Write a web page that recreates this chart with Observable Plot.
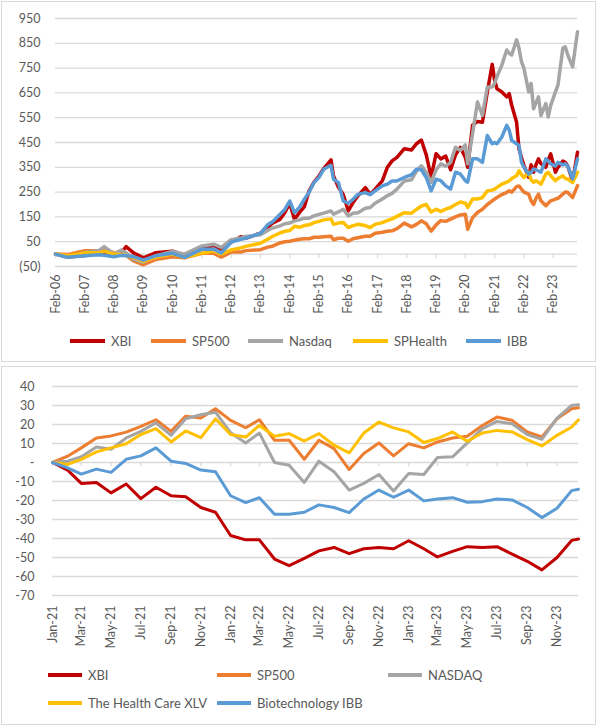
<!DOCTYPE html>
<html><head><meta charset="utf-8">
<script src="https://cdn.jsdelivr.net/npm/d3@7"></script>
<script src="https://cdn.jsdelivr.net/npm/@observablehq/plot@0.6"></script>
<style>
body{margin:0;background:#fff;font-family:Lato,sans-serif;}
#page{position:relative;width:597px;height:726px;overflow:hidden;background:#fff}
.panel{position:absolute;border:1px solid #d9d9d9;box-sizing:border-box}
.chart{position:absolute;left:0}
.leg{position:absolute;display:flex;align-items:center;height:16px;font-size:13px;color:#595959;white-space:nowrap}
.sw{height:4px;margin-right:6px}
</style></head><body><div id="page">
<div class="panel" style="left:1px;top:1px;width:595px;height:361px"></div>
<div class="panel" style="left:1px;top:366px;width:595px;height:359px"></div>
<div id="top" class="chart" style="top:0px"></div>
<div id="bot" class="chart" style="top:366px"></div>
</div>
<script>
// ---------- TOP CHART DATA (cumulative % since Feb-06) ----------
const topDates = ["2006-02","2006-07","2007-02","2007-08","2007-10","2008-02","2008-05","2008-07","2008-10","2009-02",
"2009-07","2010-02","2010-07","2011-02","2011-07","2011-10","2012-02","2012-06","2012-08","2013-02","2013-05","2013-07",
"2013-10","2013-12","2014-02","2014-04","2014-06","2014-08","2014-10","2014-12","2015-02","2015-04",
"2015-07","2015-08","2015-10","2015-12","2016-02","2016-04","2016-06","2016-09","2016-11","2017-01",
"2017-04","2017-06","2017-08","2017-10","2018-01","2018-04","2018-06","2018-08","2018-10","2018-12",
"2019-02","2019-04","2019-06","2019-08","2019-10","2019-12","2020-02","2020-03","2020-05","2020-07",
"2020-09","2020-11","2021-01","2021-02","2021-03","2021-05","2021-07","2021-08","2021-09","2021-11",
"2021-12","2022-01","2022-02","2022-04","2022-05","2022-06","2022-07","2022-08","2022-09","2022-11",
"2022-12","2023-01","2023-03","2023-04","2023-06","2023-07","2023-08","2023-10","2023-12"];
const topXBI = [0,-12,-6,2,5,-4,5,30,5,-15,5,12,-5,20,35,20,48,70,64,84,108,125,
140,167,205,140,167,190,255,290,315,345,
380,315,270,240,174,208,235,268,241,262,
295,349,376,390,425,420,445,460,400,310,
405,384,395,340,400,430,390,350,520,535,
532,654,765,700,667,654,634,647,600,532,
424,390,357,310,360,330,360,384,365,350,
380,404,330,350,375,370,355,295,411];
const topSP500 = [0,-2,14,14,20,5,8,-5,-27,-43,-22,-11,-15,3,3,-12,8,8,14,18,28,32,
45,50,52,56,60,62,62,68,68,70,
72,58,64,64,52,62,66,72,72,84,
88,92,94,103,125,110,120,134,122,93,
118,135,132,141,150,158,161,100,147,168,
181,200,215,222,228,240,249,255,250,272,
275,262,250,242,215,200,225,242,215,195,
205,215,222,225,242,250,249,228,276];
const topNasdaq = [0,-13,7,15,30,0,16,5,-20,-33,-7,11,0,33,40,27,58,65,71,78,95,105,
114,122,125,134,138,145,145,154,160,165,
174,161,170,181,154,165,167,185,188,205,
222,235,245,262,295,300,335,356,330,289,
340,364,355,370,431,418,440,364,485,613,
559,674,674,690,715,762,823,810,803,864,
830,776,749,654,688,586,610,634,559,607,
553,600,654,681,830,836,803,755,897];
const topSPHealth = [0,-7,5,5,11,0,-3,-5,-13,-29,-13,0,-13,3,13,0,17,25,31,44,60,71,
85,92,95,112,108,115,118,127,132,138,
142,120,125,127,107,115,120,115,107,120,
127,135,142,152,167,165,180,194,200,170,
181,172,181,188,200,210,205,188,222,222,
228,255,258,262,269,282,290,296,305,316,
336,320,309,330,300,289,296,289,282,323,
330,316,296,305,316,305,303,289,330];
const topIBB = [0,-13,-7,-3,-5,-11,-5,-7,-10,-24,-7,3,-13,20,20,5,48,60,64,84,118,130,
160,180,214,167,188,220,250,289,309,342,
358,302,289,214,205,221,241,248,240,255,
275,282,295,295,309,320,342,340,309,255,
302,296,275,262,330,323,296,290,384,384,
370,478,445,450,445,472,519,500,458,445,
438,370,350,323,330,343,340,335,330,384,
375,364,355,370,360,364,355,303,384];
const topNames = ["XBI","SP500","Nasdaq","SPHealth","IBB"];
const topColors = ["#C00000","#ED7D31","#A5A5A5","#FFC000","#5B9BD5"];
const topYTicks = [-50,50,150,250,350,450,550,650,750,850,950];
const topXTicks = ["2006-02","2007-02","2008-02","2009-02","2010-02","2011-02","2012-02","2013-02","2014-02",
"2015-02","2016-02","2017-02","2018-02","2019-02","2020-02","2021-02","2022-02","2023-02"];

// ---------- BOTTOM CHART DATA (% since Jan-21) ----------
const botDates = ["2021-01-01","2021-02-01","2021-03-01","2021-04-01","2021-05-01","2021-06-01","2021-07-01","2021-08-01","2021-09-01","2021-10-01","2021-11-01","2021-12-01",
"2022-01-01","2022-02-01","2022-03-01","2022-04-01","2022-05-01","2022-06-01","2022-07-01","2022-08-01","2022-09-01","2022-10-01","2022-11-01","2022-12-01",
"2023-01-01","2023-02-01","2023-03-01","2023-04-01","2023-05-01","2023-06-01","2023-07-01","2023-08-01","2023-09-01","2023-10-01","2023-11-01","2023-12-01","2023-12-15"];
const botXBI = [0,-4,-11,-10.5,-16,-11.3,-19,-13,-17.5,-18,-23.7,-26.2,-38.4,-40.7,-40.7,-50.8,-54.3,-50.5,-46.5,-44.7,-48,-45.4,-44.7,-45.4,-41.2,-45.4,-49.7,-46.8,-44.3,-44.7,-44.3,-48.2,-52,-56.5,-50,-41,-40.3];
const botSP500 = [0,3.3,7.7,12.9,14,16,19,22.5,16.4,24.4,23.4,28.3,22.2,18.3,22.5,11.7,11.7,1.7,11.7,7.3,-3.7,4.7,10.3,3.5,9.9,7.7,10.8,12.9,13.8,19.5,23.9,22.2,16.1,13.4,23,28.3,28.8];
const botNASDAQ = [0,0.7,3,8.2,7,12.9,16.4,20.9,14.3,23,25.1,26.5,15.7,10.3,15.5,0,-1.4,-10.5,0.7,-4.9,-14.5,-11,-6.3,-15,-5.8,-6.3,2.6,3,10.3,17.8,21.6,20.4,14.7,12.2,23.4,30,30.4];
const botXLV = [0,-1,1.6,5.6,7.7,9.9,14.7,17.8,10.8,16.6,13.1,23,14.7,13.4,19.5,13.8,15.2,11.3,15.2,9.1,5.1,15.5,21.3,18.2,16.1,10.5,12.6,16.1,11.2,15.5,16.9,16.1,12,8.7,14.3,18.7,22.5];
const botIBB = [0,-2.8,-6.1,-3.5,-5.2,1.7,3.5,7.7,0.7,-0.5,-4,-4.9,-17.5,-21.1,-18.5,-27.2,-27.2,-26.2,-22.3,-23.7,-26.4,-19.2,-14.5,-18.3,-14.5,-20.2,-19.2,-18.5,-20.9,-20.6,-19.2,-19.7,-23.7,-29,-24.1,-14.8,-14.1];
const botNames = ["XBI","SP500","NASDAQ","The Health Care XLV","Biotechnology IBB"];
const botColors = ["#C00000","#ED7D31","#A5A5A5","#FFC000","#5B9BD5"];
const botYTicks = [-70,-60,-50,-40,-30,-20,-10,0,10,20,30,40];
const botXTicks = ["2021-01-01","2021-03-01","2021-05-01","2021-07-01","2021-09-01","2021-11-01","2022-01-01","2022-03-01","2022-05-01","2022-07-01","2022-09-01","2022-11-01",
"2023-01-01","2023-03-01","2023-05-01","2023-07-01","2023-09-01","2023-11-01"];

// ---------- BUILD ----------
const parseM = d3.utcParse("%Y-%m"), parseD = d3.utcParse("%Y-%m-%d");
const fmtDate = d3.utcFormat("%b-%y");
function table(dates, seriesArr, names, parse) {
  return seriesArr.map((vals, i) => vals.map((v, j) => ({date: parse(dates[j]), value: v, series: names[i]})));
}
const topData = table(topDates, [topXBI, topSP500, topNasdaq, topSPHealth, topIBB], topNames, parseM);
const botData = table(botDates, [botXBI, botSP500, botNASDAQ, botXLV, botIBB], botNames, parseD);
const topTickD = topXTicks.map(parseM), botTickD = botXTicks.map(parseD);
const grid = "#d9d9d9";
const style = {fontFamily: "Lato, sans-serif", fontSize: "12.5px", color: "#595959", background: "transparent", overflow: "visible"};

const topPlot = Plot.plot({
  width: 597, height: 330, marginLeft: 55, marginRight: 20, marginTop: 18, marginBottom: 64,
  style,
  x: {type: "utc", domain: [parseM(topDates[0]), parseM(topDates[topDates.length - 1])]},
  y: {domain: [-50, 950]},
  marks: [
    Plot.gridY(topYTicks, {stroke: grid, strokeOpacity: 1, strokeWidth: 1.3}),
    Plot.ruleY([0], {stroke: grid, strokeWidth: 1.3}),
    Plot.ruleX(topTickD, {x: d => d, y1: 0, y2: -18, stroke: grid, strokeWidth: 1.2}),
    Plot.axisY(topYTicks, {tickSize: 0, tickPadding: 15, label: null, tickFormat: d => d < 0 ? `(${-d})` : String(d)}),
    Plot.axisX(topTickD, {tickSize: 0, tickPadding: 8, tickRotate: -90, label: null, tickFormat: fmtDate}),
    ...topData.map((s, i) => Plot.line(s, {x: "date", y: "value", stroke: topColors[i], strokeWidth: 3.5, strokeLinejoin: "round"}))
  ]
});
document.getElementById("top").append(topPlot);

const botPlot = Plot.plot({
  width: 597, height: 290, marginLeft: 52, marginRight: 19, marginTop: 20, marginBottom: 61,
  style,
  x: {type: "utc", domain: [parseD(botDates[0]), parseD(botDates[botDates.length - 1])]},
  y: {domain: [-70, 40]},
  marks: [
    Plot.gridY(botYTicks, {stroke: grid, strokeOpacity: 1, strokeWidth: 1.3}),
    Plot.ruleX(botTickD, {x: d => d, y1: 0, y2: -2.2, stroke: grid, strokeWidth: 1.2}),
    Plot.axisY(botYTicks, {tickSize: 0, tickPadding: 18, label: null, tickFormat: d => d === 0 ? "-" : String(d)}),
    Plot.axisX(botTickD, {tickSize: 0, tickPadding: 10, tickRotate: -90, label: null, tickFormat: fmtDate}),
    ...botData.map((s, i) => Plot.line(s, {x: "date", y: "value", stroke: botColors[i], strokeWidth: 3, strokeLinejoin: "round"}))
  ]
});
document.getElementById("bot").append(botPlot);

// ---------- LEGENDS ----------
function legendItem(name, color, left, cy, sw) {
  const d = document.createElement("div");
  d.className = "leg";
  d.style.left = left + "px"; d.style.top = (cy - 8) + "px";
  d.innerHTML = `<span class="sw" style="width:${sw}px;background:${color}"></span><span>${name}</span>`;
  document.getElementById("page").append(d);
}
const topLegLeft = [70, 151, 248, 353, 466];
topNames.forEach((n, i) => legendItem(n, topColors[i], topLegLeft[i], 341, 35));
const botLegPos = [[48, 675], [217, 675], [388, 675], [48, 703], [217, 703]];
botNames.forEach((n, i) => legendItem(n, botColors[i], botLegPos[i][0], botLegPos[i][1], 34));
</script></body></html>
